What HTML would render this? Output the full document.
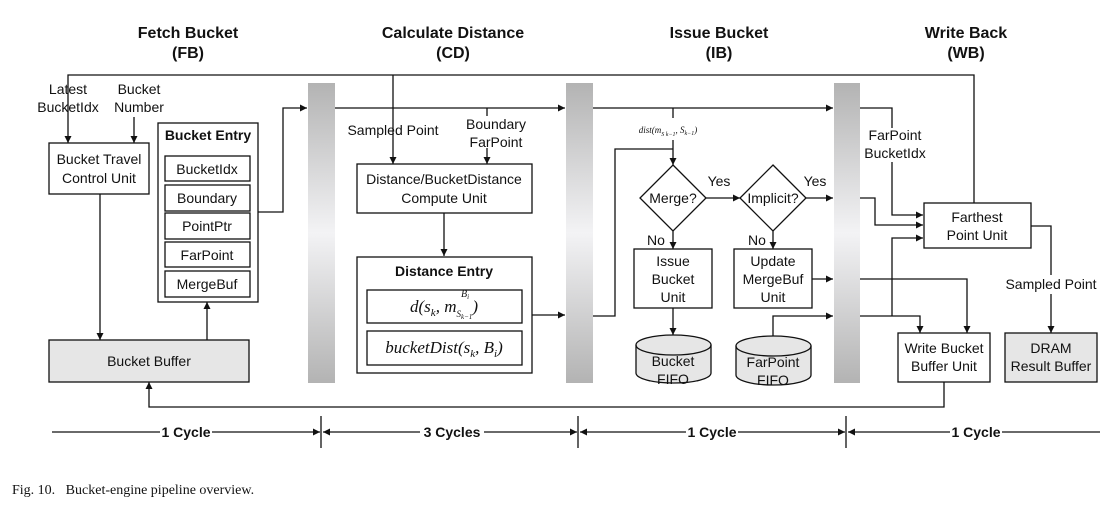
<!DOCTYPE html>
<html><head><meta charset="utf-8"><style>
html,body{margin:0;padding:0;background:#fff;width:1110px;height:507px;overflow:hidden}
svg{display:block}
text{font-family:"Liberation Sans",sans-serif;font-size:14px;fill:#111}
.b{font-weight:bold}
.m{font-family:"Liberation Serif",serif;font-style:italic;font-size:17px}
</style></head><body>
<svg width="1110" height="507" viewBox="0 0 1110 507" xmlns="http://www.w3.org/2000/svg">
<defs>
<linearGradient id="g" x1="0" y1="0" x2="0" y2="1">
<stop offset="0" stop-color="#b3b3b3"/><stop offset="0.5" stop-color="#f3f3f5"/><stop offset="1" stop-color="#b3b3b3"/>
</linearGradient>
<marker id="a" viewBox="0 0 10 10" refX="10" refY="5" markerWidth="7" markerHeight="7" orient="auto-start-reverse" markerUnits="userSpaceOnUse"><path d="M0,0 L10,5 L0,10 z" fill="#111"/></marker>
</defs>
<g stroke="#111" stroke-width="1.3" fill="none">
<polyline points="68,117 68,75 974,75 974,203"/>
<line x1="68" y1="117" x2="68" y2="143" marker-end="url(#a)"/>
<line x1="134" y1="117" x2="134" y2="143" marker-end="url(#a)"/>
<rect x="49" y="143" width="100" height="51" fill="#fff"/>
<line x1="100" y1="194" x2="100" y2="340" marker-end="url(#a)"/>
<rect x="49" y="340" width="200" height="42" fill="#e6e6e6"/>
<line x1="207" y1="340" x2="207" y2="302" marker-end="url(#a)"/>
<rect x="158" y="123" width="100" height="179" fill="#fff"/>
<rect x="165" y="156" width="85" height="25"/>
<rect x="165" y="185" width="85" height="26"/>
<rect x="165" y="213" width="85" height="26"/>
<rect x="165" y="242" width="85" height="25"/>
<rect x="165" y="271" width="85" height="26"/>
<polyline points="258,212 283,212 283,108 307,108" marker-end="url(#a)"/>
<rect x="308" y="83" width="27" height="300" fill="url(#g)" stroke="none"/>
<rect x="566" y="83" width="27" height="300" fill="url(#g)" stroke="none"/>
<rect x="834" y="83" width="26" height="300" fill="url(#g)" stroke="none"/>
<line x1="335" y1="108" x2="565" y2="108" marker-end="url(#a)"/>
<line x1="393" y1="75" x2="393" y2="164" marker-end="url(#a)"/>
<line x1="487" y1="108" x2="487" y2="116"/>
<line x1="487" y1="148" x2="487" y2="164" marker-end="url(#a)"/>
<rect x="357" y="164" width="175" height="49" fill="#fff"/>
<line x1="444" y1="213" x2="444" y2="256" marker-end="url(#a)"/>
<rect x="357" y="257" width="175" height="116"/>
<rect x="367" y="290" width="155" height="33"/>
<rect x="367" y="331" width="155" height="34"/>
<line x1="532" y1="315" x2="565" y2="315" marker-end="url(#a)"/>
<line x1="593" y1="108" x2="833" y2="108" marker-end="url(#a)"/>
<line x1="673" y1="108" x2="673" y2="118"/>
<polyline points="593,316 615,316 615,149 673,149"/>
<line x1="673" y1="140" x2="673" y2="165" marker-end="url(#a)"/>
<polygon points="673,165 706,198 673,231 640,198" fill="#fff"/>
<polygon points="773,165 806,198 773,231 740,198" fill="#fff"/>
<line x1="706" y1="198" x2="740" y2="198" marker-end="url(#a)"/>
<line x1="806" y1="198" x2="833" y2="198" marker-end="url(#a)"/>
<line x1="673" y1="231" x2="673" y2="249" marker-end="url(#a)"/>
<line x1="773" y1="231" x2="773" y2="249" marker-end="url(#a)"/>
<rect x="634" y="249" width="78" height="59" fill="#fff"/>
<rect x="734" y="249" width="78" height="59" fill="#fff"/>
<line x1="812" y1="279" x2="833" y2="279" marker-end="url(#a)"/>
<line x1="673" y1="308" x2="673" y2="335" marker-end="url(#a)"/>
<path d="M636,345 A37.5,10 0 0 1 711,345 L711,373 A37.5,10 0 0 1 636,373 Z" fill="#e6e6e6"/>
<path d="M636,345 A37.5,10 0 0 0 711,345"/>
<path d="M736,346 A37.5,10 0 0 1 811,346 L811,375 A37.5,10 0 0 1 736,375 Z" fill="#e6e6e6"/>
<path d="M736,346 A37.5,10 0 0 0 811,346"/>
<polyline points="773,336 773,316 833,316" marker-end="url(#a)"/>
<polyline points="860,108 892,108 892,128"/>
<polyline points="892,162 892,215 923,215" marker-end="url(#a)"/>
<polyline points="860,198 875,198 875,225 923,225" marker-end="url(#a)"/>
<polyline points="892,316 892,238 923,238" marker-end="url(#a)"/>
<polyline points="860,316 920,316 920,333" marker-end="url(#a)"/>
<polyline points="860,279 967,279 967,333" marker-end="url(#a)"/>
<rect x="924" y="203" width="107" height="45" fill="#fff"/>
<polyline points="1031,226 1051,226 1051,275"/>
<line x1="1051" y1="294" x2="1051" y2="333" marker-end="url(#a)"/>
<rect x="898" y="333" width="92" height="49" fill="#fff"/>
<rect x="1005" y="333" width="92" height="49" fill="#e6e6e6"/>
<polyline points="944,382 944,407 149,407 149,382" marker-end="url(#a)"/>
<line x1="52" y1="432" x2="320" y2="432" marker-end="url(#a)"/>
<line x1="323" y1="432" x2="577" y2="432" marker-start="url(#a)" marker-end="url(#a)"/>
<line x1="580" y1="432" x2="845" y2="432" marker-start="url(#a)" marker-end="url(#a)"/>
<line x1="848" y1="432" x2="1100" y2="432" marker-start="url(#a)"/>
<line x1="321" y1="416" x2="321" y2="448"/>
<line x1="578" y1="416" x2="578" y2="448"/>
<line x1="846" y1="416" x2="846" y2="448"/>
</g>
<g fill="#fff"><rect x="160" y="424" width="52" height="16"/><rect x="420" y="424" width="64" height="16"/><rect x="686" y="424" width="52" height="16"/><rect x="950" y="424" width="52" height="16"/></g>
<g text-anchor="middle">
<text class="b" x="188" y="38" style="font-size:16px">Fetch Bucket</text>
<text class="b" x="188" y="58" style="font-size:16px">(FB)</text>
<text class="b" x="453" y="38" style="font-size:16px">Calculate Distance</text>
<text class="b" x="453" y="58" style="font-size:16px">(CD)</text>
<text class="b" x="719" y="38" style="font-size:16px">Issue Bucket</text>
<text class="b" x="719" y="58" style="font-size:16px">(IB)</text>
<text class="b" x="966" y="38" style="font-size:16px">Write Back</text>
<text class="b" x="966" y="58" style="font-size:16px">(WB)</text>
<text x="68" y="94">Latest</text><text x="68" y="112">BucketIdx</text>
<text x="139" y="94">Bucket</text><text x="139" y="112">Number</text>
<text x="99" y="164">Bucket Travel</text><text x="99" y="183">Control Unit</text>
<text x="149" y="366">Bucket Buffer</text>
<text class="b" x="208" y="140">Bucket Entry</text>
<text x="207" y="174">BucketIdx</text><text x="207" y="203">Boundary</text><text x="207" y="231">PointPtr</text><text x="207" y="260">FarPoint</text><text x="207" y="289">MergeBuf</text>
<text x="393" y="135">Sampled Point</text>
<text x="496" y="129">Boundary</text><text x="496" y="147">FarPoint</text>
<text x="444" y="184">Distance/BucketDistance</text><text x="444" y="203">Compute Unit</text>
<text class="b" x="444" y="276">Distance Entry</text>
<text class="m" x="444" y="312">d(s<tspan style="font-size:11px" dy="4">k</tspan><tspan dy="-4">, m</tspan><tspan style="font-size:9px" dy="5">S</tspan><tspan style="font-size:7px" dy="2">k−1</tspan><tspan dy="-7">)</tspan></text>
<text class="m" x="444" y="353">bucketDist(s<tspan style="font-size:11px" dy="4">k</tspan><tspan dy="-4">, B</tspan><tspan style="font-size:11px" dy="4">i</tspan><tspan dy="-4">)</tspan></text>
<text class="m" x="465" y="297" style="font-size:10px">B<tspan style="font-size:7px" dy="2">i</tspan></text>
<text class="m" x="668" y="133" style="font-size:9px">dist(m<tspan style="font-size:6px" dy="3">S k−1</tspan><tspan dy="-3">, S</tspan><tspan style="font-size:6px" dy="2">k−1</tspan><tspan dy="-2">)</tspan></text>
<text x="673" y="203">Merge?</text>
<text x="773" y="203">Implicit?</text>
<text x="719" y="186">Yes</text><text x="815" y="186">Yes</text>
<text x="656" y="245">No</text><text x="757" y="245">No</text>
<text x="673" y="266">Issue</text><text x="673" y="284">Bucket</text><text x="673" y="302">Unit</text>
<text x="773" y="266">Update</text><text x="773" y="284">MergeBuf</text><text x="773" y="302">Unit</text>
<text x="673" y="366">Bucket</text><text x="673" y="384">FIFO</text>
<text x="773" y="367">FarPoint</text><text x="773" y="385">FIFO</text>
<text x="895" y="140">FarPoint</text><text x="895" y="158">BucketIdx</text>
<text x="977" y="222">Farthest</text><text x="977" y="240">Point Unit</text>
<text x="1051" y="289">Sampled Point</text>
<text x="944" y="353">Write Bucket</text><text x="944" y="371">Buffer Unit</text>
<text x="1051" y="353">DRAM</text><text x="1051" y="371">Result Buffer</text>
<text class="b" x="186" y="437">1 Cycle</text>
<text class="b" x="452" y="437">3 Cycles</text>
<text class="b" x="712" y="437">1 Cycle</text>
<text class="b" x="976" y="437">1 Cycle</text>
</g>
<text x="12" y="494" style="font-family:'Liberation Serif',serif;font-size:14px">Fig. 10.&#160;&#160;&#160;Bucket-engine pipeline overview.</text>
</svg>
</body></html>
